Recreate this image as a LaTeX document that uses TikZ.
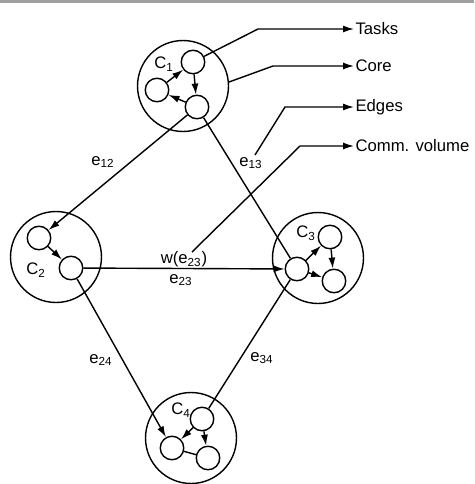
\documentclass[tikz,border=0pt]{standalone}
\usepackage{fontspec}
\setmainfont{Liberation Sans}
\usetikzlibrary{arrows.meta}

\begin{document}
\begin{tikzpicture}[
  x=0.02cm, y=-0.02cm,
  line width=0.8pt,
  font=\fontsize{9.5}{11}\selectfont,
  core/.style={circle, draw, minimum size=1.82cm, inner sep=0pt},
  task/.style={circle, draw, fill=white, minimum size=0.47cm, inner sep=0pt},
  flow/.style={-{Latex[length=2.2mm,width=1.4mm]}},
  legend/.style={-{Latex[length=2.2mm,width=1.4mm]}}
]
  \useasboundingbox (0,0) rectangle (474,484);
  \fill[gray!75] (0,0) rectangle (474,2.5);

  \node[core] (C1) at (183,86) {};
  \node[core] (C2) at (56,257) {};
  \node[core] (C3) at (318,258) {};
  \node[core] (C4) at (191,438) {};

  \node (l1) at (164,64) {C\textsubscript{1}};
  \node (l2) at (36,270) {C\textsubscript{2}};
  \node (l3) at (306,233) {C\textsubscript{3}};
  \node (l4) at (181,410) {C\textsubscript{4}};

  \node[task] (t11) at (193,62) {};
  \node[task] (t12) at (157,90) {};
  \node[task] (t13) at (197,107) {};
  \node[task] (t21) at (39,238) {};
  \node[task] (t22) at (71,268) {};
  \node[task] (t31) at (297,269) {};
  \node[task] (t32) at (330,237) {};
  \node[task] (t33) at (334,281) {};
  \node[task] (t41) at (202,419) {};
  \node[task] (t42) at (172,448) {};
  \node[task] (t43) at (208,458) {};

  \draw[flow] (t12) -- (t11);
  \draw[flow] (t11) -- (t13);
  \draw[flow] (t13) -- (t12);
  \draw[flow] (t21) -- (t22);
  \draw[flow] (t31) -- (t32);
  \draw[flow] (t32) -- (t33);
  \draw[flow] (t31) -- (t33);
  \draw[flow] (t41) -- (t42);
  \draw[flow] (t41) -- (t43);
  \draw (t42) -- (t43);

  \draw[flow] (t13) -- (t21);
  \draw (t13) -- (t31);
  \draw[flow] (t22) -- (t31);
  \draw[flow] (t22) -- (t42);
  \draw (t31) -- (t41);

  \node (e12) at (103,162) {e\textsubscript{12}};
  \node (e13) at (251,163) {e\textsubscript{13}};
  \node (w23) at (184,259) {w(e\textsubscript{23})};
  \node (e23) at (181,280) {e\textsubscript{23}};
  \node (e24) at (101,360) {e\textsubscript{24}};
  \node (e34) at (262,358) {e\textsubscript{34}};

  \node[anchor=west, inner sep=0.5pt] (tasks) at (354,29) {Tasks};
  \node[anchor=west, inner sep=0.5pt] (corelbl) at (354,66) {Core};
  \node[anchor=west, inner sep=0.5pt] (edges) at (354,107) {Edges};
  \node[anchor=west, inner sep=0.5pt] (comm) at (354,146) {Comm. volume};

  \coordinate (cb) at (229,82);
  \coordinate (eb) at (255,155);
  \coordinate (wb) at (192,252);

  \draw[legend] (t11) -- (258,29) -- (tasks.west);
  \draw[legend] (cb) -- (273,66) -- (corelbl.west);
  \draw[legend] (eb) -- (285,107) -- (edges.west);
  \draw[legend] (wb) -- (300,146) -- (comm.west);
\end{tikzpicture}
\end{document}
